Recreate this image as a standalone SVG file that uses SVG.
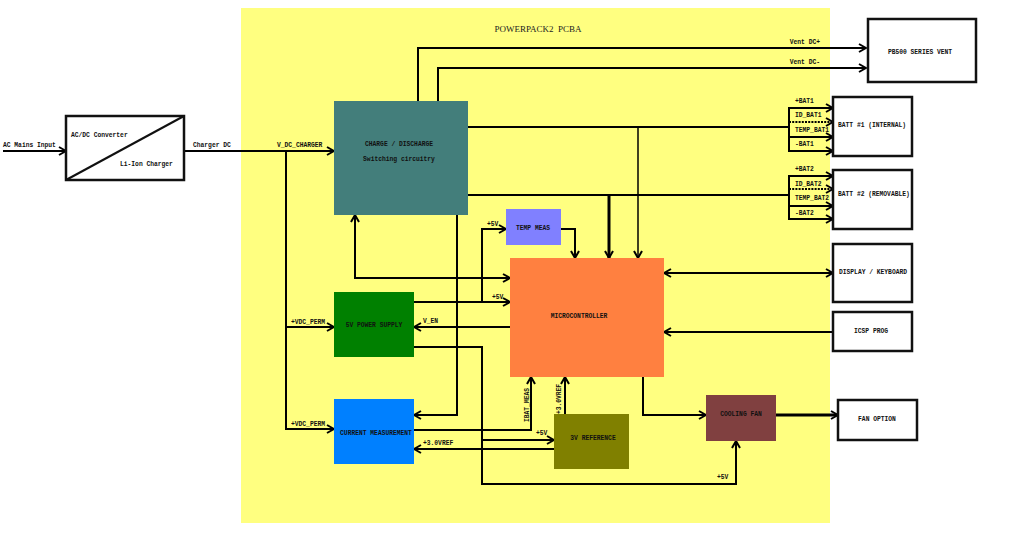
<svg xmlns="http://www.w3.org/2000/svg" width="1024" height="538" viewBox="0 0 1024 538">
<style>
text{font-family:"Liberation Mono","DejaVu Sans Mono",monospace;font-size:6.3px;font-weight:bold;fill:#111}
.c{text-anchor:middle}
.t{font-family:"Liberation Serif","DejaVu Serif",serif;font-size:9px;font-weight:normal;fill:#222;white-space:pre}
.ob{fill:#fff;stroke:#111;stroke-width:2.5}
.w{fill:none;stroke:#000;stroke-width:2}
.k{stroke-width:3}
.n{stroke-width:1.5}
.d{stroke-dasharray:2 1.2}
.e{marker-end:url(#a)}
.s{marker-start:url(#a)}
</style>
<defs>
<marker id="a" viewBox="0 0 10 10" refX="9" refY="5" markerWidth="10" markerHeight="10" markerUnits="userSpaceOnUse" orient="auto-start-reverse">
<path d="M2,1 L9,5 L2,9" fill="none" stroke="#000" stroke-width="2"/>
</marker>
</defs>
<rect width="1024" height="538" fill="#fff"/>
<rect id="pcba" x="241" y="8" width="589" height="515" fill="#FFFF80"/>
<text class="t c" x="538" y="32" xml:space="preserve">POWERPACK2  PCBA</text>

<g id="connectors">
<path class="w e" d="M3,151 H66"/>
<path class="w e" d="M184,151 H334"/>
<path class="w e" d="M418,101 V48 H866"/>
<path class="w e" d="M438,101 V68 H866"/>
<path class="w" d="M468,127 H789"/>
<path class="w e" d="M789,127 V108 H833"/>
<path class="w e" d="M789,127 V151 H833"/>
<path class="w e" d="M789,137 H833"/>
<path class="w d e" d="M789,122 H833"/>
<path class="w" d="M468,195 H789"/>
<path class="w e" d="M789,195 V176 H833"/>
<path class="w e" d="M789,195 V219 H833"/>
<path class="w e" d="M789,206 H833"/>
<path class="w d e" d="M789,189 H833"/>
<path class="w n e" d="M638,127 V258"/>
<path class="w k e" d="M609,195 V258"/>
<path class="w e" d="M561,229 H575 V258"/>
<path class="w e" d="M482,302 V229 H506"/>
<path class="w s e" d="M355,215 V278 H510"/>
<path class="w e" d="M457,215 V415 H414"/>
<path class="w e" d="M414,302 H510"/>
<path class="w e" d="M510,327 H414"/>
<path class="w e" d="M286,151 V429 H334"/>
<path class="w e" d="M286,327 H334"/>
<path class="w e" d="M414,347 H482 V484 H736 V441"/>
<path class="w e" d="M482,440 H554"/>
<path class="w e" d="M414,430 H531 V377"/>
<path class="w e" d="M565,414 V377"/>
<path class="w e" d="M554,449 H414"/>
<path class="w e" d="M643,377 V415 H706"/>
<path class="w k e" d="M776,415 H838"/>
<path class="w s e" d="M664,273 H833"/>
<path class="w e" d="M833,332 H664"/>
</g>

<g id="labels">
<text x="3" y="147">AC Mains Input</text>
<text x="193" y="147">Charger DC</text>
<text x="277" y="147">V_DC_CHARGER</text>
<text x="820" y="44" text-anchor="end">Vent DC+</text>
<text x="820" y="64" text-anchor="end">Vent DC-</text>
<text x="795" y="103">+BAT1</text>
<text x="795" y="117">ID_BAT1</text>
<text x="795" y="132">TEMP_BAT1</text>
<text x="795" y="146">-BAT1</text>
<text x="795" y="171">+BAT2</text>
<text x="795" y="186">ID_BAT2</text>
<text x="795" y="200">TEMP_BAT2</text>
<text x="795" y="215">-BAT2</text>
<text x="487" y="226">+5V</text>
<text x="492" y="299">+5V</text>
<text x="423" y="323">V_EN</text>
<text x="291" y="324">+VDC_PERM</text>
<text x="291" y="426">+VDC_PERM</text>
<text class="c" transform="translate(529,405) rotate(-90)">IBAT_MEAS</text>
<text class="c" transform="translate(561,399) rotate(-90)">+3.0VREF</text>
<text x="536" y="435">+5V</text>
<text x="423" y="445">+3.0VREF</text>
<text x="717" y="479">+5V</text>
</g>

<g id="acdc">
<rect class="ob" x="66" y="116" width="118" height="64"/>
<path d="M66,180 L184,116" stroke="#111" stroke-width="2"/>
<text x="71" y="137">AC/DC Converter</text>
<text x="120" y="166">Li-Ion Charger</text>
</g>
<g id="pb500">
<rect class="ob" x="868" y="19" width="108" height="63"/>
<text class="c" x="920" y="54">PB500 SERIES VENT</text>
</g>
<g id="batt1">
<rect class="ob" x="833" y="97" width="79" height="59"/>
<text x="838" y="127">BATT #1 (INTERNAL)</text>
</g>
<g id="batt2">
<rect class="ob" x="833" y="170" width="79" height="59"/>
<text x="838" y="196">BATT #2 (REMOVABLE)</text>
</g>
<g id="display">
<rect class="ob" x="833" y="244" width="79" height="58"/>
<text class="c" x="873" y="274">DISPLAY / KEYBOARD</text>
</g>
<g id="icsp">
<rect class="ob" x="833" y="312" width="79" height="39"/>
<text class="c" x="871" y="333">ICSP PROG</text>
</g>
<g id="fanopt">
<rect class="ob" x="838" y="400" width="79" height="40"/>
<text class="c" x="877" y="421">FAN OPTION</text>
</g>
<g id="charge">
<rect x="334" y="101" width="134" height="114" fill="#437E7B"/>
<text class="c" x="399" y="146">CHARGE / DISCHARGE</text>
<text class="c" x="399" y="161">Switching circuitry</text>
</g>
<g id="tempmeas">
<rect x="506" y="209" width="55" height="36" fill="#8080FF"/>
<text class="c" x="533" y="230">TEMP MEAS</text>
</g>
<g id="mcu">
<rect x="510" y="258" width="154" height="119" fill="#FF8040"/>
<text class="c" x="579" y="318">MICROCONTROLLER</text>
</g>
<g id="psu">
<rect x="334" y="292" width="80" height="65" fill="#008000"/>
<text class="c" x="374" y="327">5V POWER SUPPLY</text>
</g>
<g id="curr">
<rect x="334" y="399" width="80" height="65" fill="#0080FF"/>
<text class="c" x="376" y="435">CURRENT MEASUREMENT</text>
</g>
<g id="vref">
<rect x="554" y="414" width="75" height="55" fill="#808000"/>
<text class="c" x="593" y="440">3V REFERENCE</text>
</g>
<g id="fan">
<rect x="706" y="395" width="70" height="46" fill="#804040"/>
<text class="c" x="741" y="416">COOLING FAN</text>
</g>
</svg>
